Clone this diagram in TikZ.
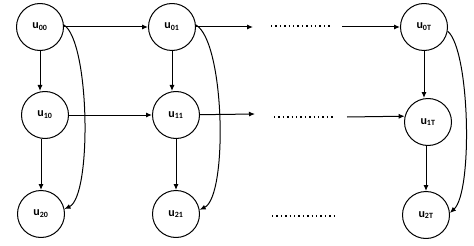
\documentclass[tikz,border=0pt]{standalone}
\usepackage{fontspec}
\setmainfont{Carlito}
\usetikzlibrary{arrows.meta}
\begin{document}
\begin{tikzpicture}[x=1pt,y=-1pt,line cap=butt,line join=round,
  state/.style={circle,draw,line width=1pt,minimum size=47pt,inner sep=0pt,
    font=\fontsize{12}{14}\selectfont\bfseries},
  arr/.style={line width=1pt,-{Latex[length=6pt,width=5pt]}},
  dotrow/.style={line width=1.4pt,dash pattern=on 1.4pt off 3pt}]
\useasboundingbox (0,0) rectangle (474,246);
% first column
\node[state] (u00) at (40,27) {u\textsubscript{00}};
\node[state] (u10) at (45,115) {u\textsubscript{10}};
\node[state] (u20) at (41,214) {u\textsubscript{20}};
% second column
\node[state] (u01) at (172,27) {u\textsubscript{01}};
\node[state] (u11) at (176,115) {u\textsubscript{11}};
\node[state] (u21) at (176,214) {u\textsubscript{21}};
% last column
\node[state] (u0T) at (424,27) {u\textsubscript{0T}};
\node[state] (u1T) at (428,122) {u\textsubscript{1T}};
\node[state] (u2T) at (426,215) {u\textsubscript{2T}};
% free ends beside the dotted gaps
\coordinate (r0) at (253,27);
\coordinate (r1) at (255,114);
\coordinate (l0) at (342,27);
\coordinate (l1) at (347,117);
\coordinate (d0a) at (271,26);  \coordinate (d0b) at (330,26);
\coordinate (d1a) at (274,117); \coordinate (d1b) at (333,117);
\coordinate (d2a) at (272,216); \coordinate (d2b) at (334,216);
% downward steps
\draw[arr] (u00) -- (u00 |- u10.north);
\draw[arr] (u10.south -| u20) -- (u20);
\draw[arr] (u01) -- (u01 |- u11.north);
\draw[arr] (u11) -- (u21);
\draw[arr] (u0T) -- (u0T |- u1T.north);
\draw[arr] (u1T.south -| u2T) -- (u2T);
% sideways steps
\draw[arr] (u00) -- (u01);
\draw[arr] (u01) -- (r0);
\draw[arr] (l0) -- (u0T);
\draw[arr] (u10) -- (u11);
\draw[arr] (u11) -- (r1);
\draw[arr] (l1) -- (u1T.166);
% gaps
\draw[dotrow] (d0a) -- (d0b);
\draw[dotrow] (d1a) -- (d1b);
\draw[dotrow] (d2a) -- (d2b);
% two steps down at once
\draw[arr] (u00.5) .. controls (90,42) and (92,196) .. (u20.12);
\draw[arr] (u01.5) .. controls (225,42) and (228,196) .. (u21.10);
\draw[arr] (u0T.-10) .. controls (470,50) and (473,192) .. (u2T.5);
\end{tikzpicture}
\end{document}
